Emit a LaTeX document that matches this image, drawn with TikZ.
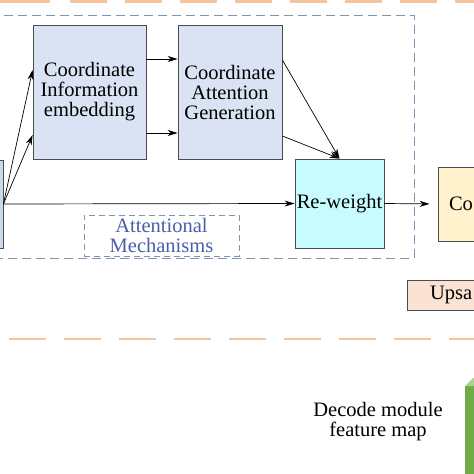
\documentclass[tikz,border=0pt]{standalone}
\usepackage{fontspec}
\setmainfont{Liberation Serif}
\usepackage{tikz}
\usetikzlibrary{shapes.geometric, arrows, arrows.meta}
\definecolor{boxblue}{HTML}{DAE3F3}
\definecolor{inblue}{HTML}{C9D9EC}
\definecolor{rwcyan}{HTML}{C8FBFD}
\definecolor{coyellow}{HTML}{FFF2CC}
\definecolor{uppeach}{HTML}{FBE3D4}
\definecolor{dashgray}{HTML}{8193AE}
\definecolor{attblue}{HTML}{4A5FA8}
\definecolor{sepor}{HTML}{F6C39F}
\definecolor{featgreen}{HTML}{70AD47}
\definecolor{featlight}{HTML}{A9D18E}
\tikzstyle{block} = [rectangle, draw=black!70, line width=0.8pt, text centered, align=center, font=\fontsize{20.5}{20}\selectfont]
\tikzstyle{arrow} = [line width=0.7pt, ->, >={Stealth[length=10pt,width=6pt]}]
\tikzstyle{sep} = [draw=sepor, dash pattern=on 37pt off 18pt]

\begin{document}
\begin{tikzpicture}[x=1pt, y=-1pt]
		\useasboundingbox (0,0) rectangle (474,474);
		\clip (0,0) rectangle (474,474);
		% separators
		\draw [sepor, line width=3pt] (0,1) -- (50,1);
		\draw [sep, line width=3pt] (70,1) -- (480,1);
		\draw [sep, line width=1.5pt] (9,339) -- (480,339);
		% attention module frame
		\draw [dashgray, line width=1pt, dash pattern=on 9pt off 5pt] (-10,15) -- (414,15) -- (414,258) -- (-10,258);
		\node (att) [block, draw=dashgray, dash pattern=on 6pt off 4pt, text=attblue, minimum width=155pt, minimum height=41pt] at (161.5,235.5) {Attentional\\Mechanisms};
		% blocks
		\node (in) [block, fill=inblue, minimum width=23pt, minimum height=88pt] at (-8.5,204) {};
		\node (cie) [block, fill=boxblue, minimum width=113pt, minimum height=134pt] at (89.5,92) {Coordinate\\Information\\embedding};
		\node (cag) [block, fill=boxblue, minimum width=104pt, minimum height=134pt] at (230,92) {Coordinate\\Attention\\Generation};
		\node (rw) [block, fill=rwcyan, minimum width=89pt, minimum height=89pt, inner sep=0pt] at (339.5,203.5) {Re-weight};
		\node (co) [block, fill=coyellow, minimum height=74pt, text width=56pt, inner xsep=11pt, align=left] at (477,204) {Co};
		\node (up) [block, fill=uppeach, minimum height=30pt, text width=76pt, inner xsep=23pt, align=left] at (468,295) {Upsa};
		\node (dec) [block, draw=none] at (378,422) {Decode module\\feature map};
		% feature map
		\fill [featgreen] (465,386) rectangle (474,474);
		\fill [featlight] (465,386) -- (473,378) -- (474,378) -- (474,386) -- cycle;
		% connectors
		\draw [arrow] (in.east) -- ([yshift=22pt]cie.west);
		\draw [arrow] (in.east) -- ([yshift=-43pt]cie.west);
		\draw [arrow] (in.east) -- (rw.west);
		\draw [arrow] ([yshift=33pt]cie.east) -- ([yshift=33pt]cag.west);
		\draw [arrow] ([yshift=-41pt]cie.east) -- ([yshift=-41pt]cag.west);
		\draw [arrow] ([yshift=32pt]cag.east) -- (rw.north);
		\draw [arrow] ([yshift=-44pt]cag.east) -- (rw.north);
		\draw [arrow, shorten >=8pt] (rw.east) -- (co.west);
\end{tikzpicture}
\end{document}
